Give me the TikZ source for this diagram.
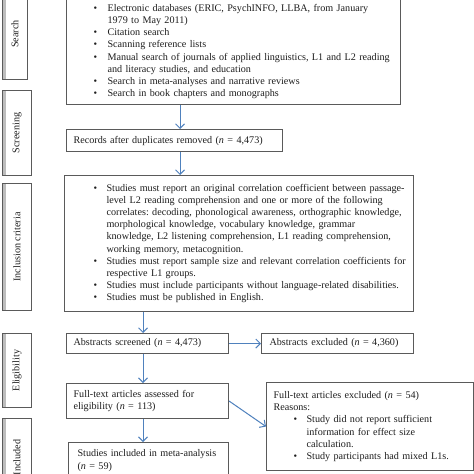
\documentclass[tikz,border=0pt]{standalone}
\usepackage{fontspec}
\setmainfont{Liberation Serif}
\usetikzlibrary{arrows.meta,calc}
\definecolor{boxline}{HTML}{5A5A5A}
\definecolor{arrowblue}{HTML}{4F81BD}
\definecolor{bandgray}{HTML}{BDBDBD}
\definecolor{txt}{HTML}{1E1E1E}
\newcommand\bul{\textbullet}
\frenchspacing
\begin{document}
\begin{tikzpicture}[x=1bp,y=-1bp,
  font=\fontsize{10.15bp}{12.2bp}\selectfont\frenchspacing,
  every node/.style={text=txt},
  box/.style={draw=boxline, line width=1.1bp, fill=white, anchor=north west,
    inner xsep=0pt, inner ysep=0pt, align=left},
  stage/.style={draw=boxline, line width=1bp, fill=white, anchor=north west,
    inner sep=0pt, align=center,
    path picture={\fill[bandgray] (path picture bounding box.north west) rectangle ([xshift=3.5bp]path picture bounding box.south west);}},
  arr/.style={draw=arrowblue, line width=1bp, -{Straight Barb[length=4.5bp,width=9bp]}}
]
\clip (0,0) rectangle (474,474);
\useasboundingbox (0,0) rectangle (474,474);
\fill[white] (0,0) rectangle (474,474);

% stage labels
\node[stage, minimum width=25bp, minimum height=91bp] (sSearch) at (2,-12) {\rotatebox{90}{Search}};
\node[stage, minimum width=29bp, minimum height=85bp] (sScreen) at (2,90) {\rotatebox{90}{Screening}};
\node[stage, minimum width=29bp, minimum height=127bp] (sIncl) at (2,183) {\rotatebox{90}{Inclusion criteria}};
\node[stage, minimum width=29bp, minimum height=74bp] (sElig) at (2,333) {\rotatebox{90}{Eligibility}};
\node[stage, minimum width=29bp, minimum height=78bp] (sIncd) at (2,418) {\rotatebox{90}{Included}};

% main boxes
\node[box, text width=334bp, minimum height=106bp] (search) at (66,-2)
{\begin{tabular}{@{\hspace{27bp}}p{14bp}@{}l@{}}
\bul & Electronic databases (ERIC, PsychINFO, LLBA, from January\\
 & 1979 to May 2011)\\
\bul & Citation search\\
\bul & Scanning reference lists\\
\bul & Manual search of journals of applied linguistics, L1 and L2 reading\\
 & and literacy studies, and education\\
\bul & Search in meta-analyses and narrative reviews\\
\bul & Search in book chapters and monographs
\end{tabular}};

\node[box, text width=216bp, minimum height=22bp] (records) at (66,129)
{\hspace{7bp}Records after duplicates removed (\textit{n} = 4,473)};

\node[box, text width=349bp, minimum height=136bp] (incl) at (64,175)
{\begin{tabular}{@{\hspace{29bp}}p{13bp}@{}l@{}}
\bul & Studies must report an original correlation coefficient between passage-\\
 & level L2 reading comprehension and one or more of the following\\
 & correlates: decoding, phonological awareness, orthographic knowledge,\\
 & morphological knowledge, vocabulary knowledge, grammar\\
 & knowledge, L2 listening comprehension, L1 reading comprehension,\\
 & working memory, metacognition.\\
\bul & Studies must report sample size and relevant correlation coefficients for\\
 & respective L1 groups.\\
\bul & Studies must include participants without language-related disabilities.\\
\bul & Studies must be published in English.
\end{tabular}};

\node[box, text width=162bp, minimum height=20bp] (abs) at (66,333)
{\hspace{7bp}Abstracts screened (\textit{n} = 4,473)};

\node[box, text width=152bp, minimum height=20bp] (absx) at (261,333)
{\hspace{8bp}Abstracts excluded (\textit{n} = 4,360)};

\node[box, text width=162bp, minimum height=35bp] (full) at (66,383)
{\begin{tabular}{@{\hspace{7bp}}l@{}}
Full-text articles assessed for\\
eligibility (\textit{n} = 113)
\end{tabular}};

\node[box, text width=207bp, minimum height=88bp] (fullx) at (266,382)
{\begin{tabular}{@{\hspace{7bp}}p{20bp}@{}p{13bp}@{}l@{}}
\multicolumn{3}{@{\hspace{7bp}}l@{}}{Full-text articles excluded (\textit{n} = 54)}\\
\multicolumn{3}{@{\hspace{7bp}}l@{}}{Reasons:}\\
 & \bul & Study did not report sufficient\\
 & & information for effect size\\
 & & calculation.\\
 & \bul & Study participants had mixed L1s.
\end{tabular}};

\node[box, text width=160bp, minimum height=36bp] (studies) at (68,442)
{\begin{tabular}{@{\hspace{9bp}}l@{}}
Studies included in meta-analysis\\
(\textit{n} = 59)
\end{tabular}};

% arrow guide coordinates
\coordinate (xa) at (180,0);
\coordinate (xb) at (143,0);

\draw[arr] (search.south -| xa) -- (records.north -| xa);
\draw[arr] (records.south -| xa) -- (incl.north -| xa);
\draw[arr] (incl.south -| xb) -- (abs.north -| xb);
\draw[arr] (abs.east) -- (absx.west);
\draw[arr] (abs.south -| xb) -- (full.north -| xb);
\draw[arr] (full.east) -- (fullx.west);
\draw[arr] (full.south -| xb) -- (studies.north -| xb);
\end{tikzpicture}
\end{document}
